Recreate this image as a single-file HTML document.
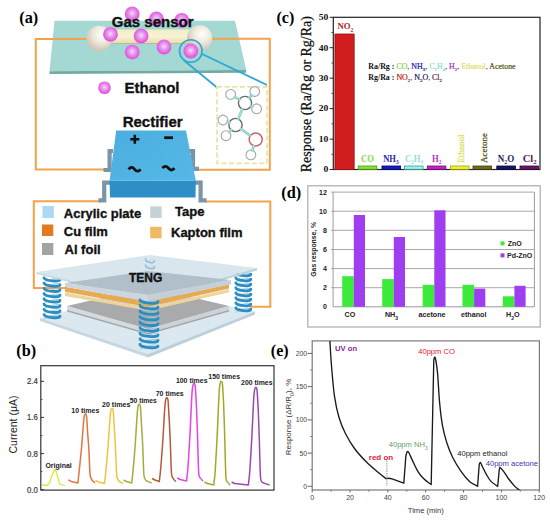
<!DOCTYPE html>
<html><head><meta charset="utf-8"><style>
html,body{margin:0;padding:0;background:#fff;width:550px;height:521px;overflow:hidden}
svg{display:block}
</style></head><body>
<svg width="550" height="521" viewBox="0 0 550 521">
<rect width="550" height="521" fill="#fff"/>
<defs>
<radialGradient id="pink" cx="0.5" cy="0.46" r="0.55">
  <stop offset="0" stop-color="#EEE0FA"/>
  <stop offset="0.3" stop-color="#EAA8F0"/>
  <stop offset="0.75" stop-color="#E466E4"/>
  <stop offset="1" stop-color="#DC4CDC"/>
</radialGradient>
<radialGradient id="bead" cx="0.6" cy="0.35" r="0.7">
  <stop offset="0" stop-color="#FFFFFF"/>
  <stop offset="0.45" stop-color="#EFE9DD"/>
  <stop offset="1" stop-color="#C9BFAE"/>
</radialGradient>
<linearGradient id="rod" x1="0" y1="0" x2="0" y2="1">
  <stop offset="0" stop-color="#F3EDC4"/>
  <stop offset="0.5" stop-color="#F8F3D6"/>
  <stop offset="1" stop-color="#E6DCA8"/>
</linearGradient>
<linearGradient id="rectTop" x1="0" y1="0" x2="1" y2="1">
  <stop offset="0" stop-color="#4AAEDF"/>
  <stop offset="1" stop-color="#56B8E6"/>
</linearGradient>
</defs>
<polygon points="54.5,20.8 235,20.8 246.2,70 49.5,71.2" fill="#A3D9D2" stroke="none" stroke-width="0" />
<polygon points="49.5,71.2 246.2,70 246.2,72.8 49.5,74" fill="#72A9A3" stroke="none" stroke-width="0" />
<path d="M89,39 H35.8 V169.6 H106" stroke="#F4A24C" stroke-width="2" fill="none" />
<path d="M210,38.7 H269.8 V169.7 H197" stroke="#F4A24C" stroke-width="2" fill="none" />
<path d="M101,201.3 H33.8 V288 H66" stroke="#F4A24C" stroke-width="2" fill="none" />
<path d="M205,201.4 H270.3 V306.7 H250" stroke="#F4A24C" stroke-width="2" fill="none" />
<rect x="100" y="29.5" width="100" height="14" fill="url(#rod)"/>
<line x1="100" y1="43.5" x2="200" y2="43.5" stroke="#BDBB98" stroke-width="1"/>
<circle cx="99" cy="38.5" r="12.7" fill="url(#bead)"/>
<circle cx="199.6" cy="38" r="12.7" fill="url(#bead)"/>
<circle cx="132.2" cy="13.9" r="7.4" fill="url(#pink)"/>
<circle cx="156.4" cy="19" r="7.4" fill="url(#pink)"/>
<circle cx="181.8" cy="20.3" r="7.4" fill="url(#pink)"/>
<circle cx="110.5" cy="34.3" r="7.4" fill="url(#pink)"/>
<circle cx="141.1" cy="36" r="7.4" fill="url(#pink)"/>
<circle cx="132.2" cy="52.1" r="7.4" fill="url(#pink)"/>
<circle cx="164" cy="47" r="7.4" fill="url(#pink)"/>
<circle cx="190.8" cy="51" r="7.4" fill="url(#pink)"/>
<circle cx="104.5" cy="87.7" r="6.3" fill="url(#pink)"/>
<text x="111.8" y="27.4" font-family="'Liberation Sans', sans-serif" font-size="15" font-weight="bold" fill="#111" text-anchor="start" stroke="#111" stroke-width="0.35">Gas sensor</text>
<text x="124.5" y="93.2" font-family="'Liberation Sans', sans-serif" font-size="15" font-weight="bold" fill="#111" text-anchor="start" stroke="#111" stroke-width="0.35">Ethanol</text>
<text x="122.7" y="126.8" font-family="'Liberation Sans', sans-serif" font-size="15" font-weight="bold" fill="#111" text-anchor="start" stroke="#111" stroke-width="0.35">Rectifier</text>
<text x="19.3" y="23" font-family="'Liberation Serif', serif" font-size="16.3" font-weight="bold" fill="#000" text-anchor="start" >(a)</text>
<circle cx="190.8" cy="51" r="11.3" fill="none" stroke="#2FA6D6" stroke-width="1.6"/>
<path d="M183.5,60 L217,87.5" stroke="#2FA6D6" stroke-width="1.7" fill="none" />
<path d="M201,53.5 L267,85" stroke="#2FA6D6" stroke-width="1.7" fill="none" />
<rect x="217" y="86.8" width="50" height="76.6" fill="none" stroke="#E2E8A0" stroke-width="1.7" stroke-dasharray="5,2.6"/>
<circle cx="230.7" cy="94.4" r="4.9" fill="#fff" stroke="#A5A5A5" stroke-width="1.1"/>
<circle cx="254.7" cy="91.5" r="4.9" fill="#fff" stroke="#A5A5A5" stroke-width="1.1"/>
<circle cx="256.6" cy="108.8" r="4.9" fill="#fff" stroke="#A5A5A5" stroke-width="1.1"/>
<circle cx="223" cy="120" r="4.9" fill="#fff" stroke="#A5A5A5" stroke-width="1.1"/>
<circle cx="226" cy="135.7" r="4.9" fill="#fff" stroke="#A5A5A5" stroke-width="1.1"/>
<circle cx="250.9" cy="154.9" r="4.9" fill="#fff" stroke="#A5A5A5" stroke-width="1.1"/>
<circle cx="245" cy="103" r="6.6" fill="#fff" stroke="#686868" stroke-width="1.4"/>
<circle cx="235.5" cy="125" r="6.6" fill="#fff" stroke="#686868" stroke-width="1.4"/>
<circle cx="255.7" cy="139.5" r="6.5" fill="#fff" stroke="#D0626C" stroke-width="1.5"/>
<line x1="242.8" y1="108.1" x2="237.7" y2="119.9" stroke="#84CBC2" stroke-width="2.6" stroke-linecap="butt"/>
<line x1="242.8" y1="108.1" x2="237.7" y2="119.9" stroke="#CDEBE6" stroke-width="0.7"/>
<line x1="240.0" y1="128.3" x2="251.0" y2="136.1" stroke="#84CBC2" stroke-width="2.6" stroke-linecap="butt"/>
<line x1="240.0" y1="128.3" x2="251.0" y2="136.1" stroke="#CDEBE6" stroke-width="0.7"/>
<line x1="240.4" y1="100.2" x2="233.8" y2="96.3" stroke="#84CBC2" stroke-width="2.6" stroke-linecap="butt"/>
<line x1="240.4" y1="100.2" x2="233.8" y2="96.3" stroke="#CDEBE6" stroke-width="0.7"/>
<line x1="248.5" y1="98.9" x2="252.4" y2="94.3" stroke="#84CBC2" stroke-width="2.6" stroke-linecap="butt"/>
<line x1="248.5" y1="98.9" x2="252.4" y2="94.3" stroke="#CDEBE6" stroke-width="0.7"/>
<line x1="249.8" y1="105.4" x2="253.4" y2="107.2" stroke="#84CBC2" stroke-width="2.6" stroke-linecap="butt"/>
<line x1="249.8" y1="105.4" x2="253.4" y2="107.2" stroke="#CDEBE6" stroke-width="0.7"/>
<line x1="230.5" y1="123.0" x2="226.3" y2="121.3" stroke="#84CBC2" stroke-width="2.6" stroke-linecap="butt"/>
<line x1="230.5" y1="123.0" x2="226.3" y2="121.3" stroke="#CDEBE6" stroke-width="0.7"/>
<line x1="231.9" y1="129.0" x2="228.4" y2="133.0" stroke="#84CBC2" stroke-width="2.6" stroke-linecap="butt"/>
<line x1="231.9" y1="129.0" x2="228.4" y2="133.0" stroke="#CDEBE6" stroke-width="0.7"/>
<line x1="254.0" y1="145.0" x2="252.0" y2="151.5" stroke="#84CBC2" stroke-width="2.6" stroke-linecap="butt"/>
<line x1="254.0" y1="145.0" x2="252.0" y2="151.5" stroke="#CDEBE6" stroke-width="0.7"/>
<path d="M103.5,170 H109.6 V151 H113" stroke="#7B95A7" stroke-width="4.2" fill="none" stroke-linejoin="miter"/>
<path d="M98.5,200.3 H104.2 V182.6 H111" stroke="#7B95A7" stroke-width="4.2" fill="none" stroke-linejoin="miter"/>
<path d="M199,168.8 H193 V151 H189" stroke="#7B95A7" stroke-width="4.2" fill="none" stroke-linejoin="miter"/>
<path d="M206.5,200.3 H200.6 V182.6 H194" stroke="#7B95A7" stroke-width="4.2" fill="none" stroke-linejoin="miter"/>
<polygon points="109.6,180.6 195.8,180.6 195.5,197.5 110,197.5" fill="#2E8FC6" stroke="none" stroke-width="0" />
<polygon points="116.2,130.5 186,130.5 195.8,180.6 109.6,180.6" fill="url(#rectTop)" stroke="none" stroke-width="0" stroke="#4AAEDF" stroke-width="1" stroke-linejoin="round"/>
<path d="M130.3,139.2 H139.3 M134.8,134.7 V143.7" stroke="#111" stroke-width="2.6" fill="none" />
<path d="M164.2,137.7 H173" stroke="#111" stroke-width="2.8" fill="none" />
<path d="M128.6,169.3 q3,-3.8 6,0 t6,0" stroke="#111" stroke-width="2.8" fill="none" />
<path d="M162.4,168.2 q3,-3.8 6,0 t6,0" stroke="#111" stroke-width="2.8" fill="none" />
<rect x="42.5" y="206" width="11.3" height="12" fill="#ADD8F2"/>
<rect x="42" y="224.5" width="11.3" height="11.5" fill="#E07B22"/>
<rect x="42" y="243" width="11.3" height="12" fill="#A3A3A3"/>
<rect x="150.2" y="206.4" width="11.4" height="11.5" fill="#C3D3D3"/>
<rect x="150.2" y="226.8" width="11.4" height="11.5" fill="#F0BA62"/>
<text x="63.8" y="218.2" font-family="'Liberation Sans', sans-serif" font-size="13" font-weight="bold" fill="#111" text-anchor="start" stroke="#111" stroke-width="0.35">Acrylic plate</text>
<text x="63.8" y="235.5" font-family="'Liberation Sans', sans-serif" font-size="13" font-weight="bold" fill="#111" text-anchor="start" stroke="#111" stroke-width="0.35">Cu film</text>
<text x="64.5" y="254" font-family="'Liberation Sans', sans-serif" font-size="13" font-weight="bold" fill="#111" text-anchor="start" stroke="#111" stroke-width="0.35">Al foil</text>
<text x="175" y="215.5" font-family="'Liberation Sans', sans-serif" font-size="13" font-weight="bold" fill="#111" text-anchor="start" stroke="#111" stroke-width="0.35">Tape</text>
<text x="171" y="237" font-family="'Liberation Sans', sans-serif" font-size="13" font-weight="bold" fill="#111" text-anchor="start" stroke="#111" stroke-width="0.35">Kapton film</text>
<polygon points="40,318 148,289 255,311.5 148,354" fill="#DCE8F0" stroke="none" stroke-width="0" />
<polygon points="40,318 148,354 148,357.5 40,321" fill="#C6D7E2" stroke="none" stroke-width="0" />
<polygon points="148,354 255,311.5 255,314.5 148,357.5" fill="#BCCFDB" stroke="none" stroke-width="0" />
<polygon points="67,306 148,287 229,306 148,329" fill="#A8AAAC" stroke="none" stroke-width="0" />
<polygon points="67,306 148,329 148,333 67,310" fill="#D5DADD" stroke="none" stroke-width="0" />
<polygon points="148,329 229,306 229,310 148,333" fill="#CDD2D6" stroke="none" stroke-width="0" />
<polygon points="67,310 148,333 148,334.5 67,311.5" fill="#A0A4A8" stroke="none" stroke-width="0" />
<polygon points="148,333 229,310 229,311.5 148,334.5" fill="#A0A4A8" stroke="none" stroke-width="0" />
<path d="M60.0,279.4 C60.0,276.6 44.0,280.3 44.0,283.1" stroke="#9CCBE2" stroke-width="1" fill="none"/>
<path d="M60.0,284.7 C60.0,281.8 44.0,285.5 44.0,288.3" stroke="#9CCBE2" stroke-width="1" fill="none"/>
<path d="M60.0,289.9 C60.0,287.1 44.0,290.8 44.0,293.6" stroke="#9CCBE2" stroke-width="1" fill="none"/>
<path d="M60.0,295.2 C60.0,292.3 44.0,296.0 44.0,298.8" stroke="#9CCBE2" stroke-width="1" fill="none"/>
<path d="M60.0,300.4 C60.0,297.6 44.0,301.3 44.0,304.1" stroke="#9CCBE2" stroke-width="1" fill="none"/>
<path d="M60.0,305.7 C60.0,302.8 44.0,306.5 44.0,309.3" stroke="#9CCBE2" stroke-width="1" fill="none"/>
<path d="M60.0,310.9 C60.0,308.1 44.0,311.8 44.0,314.6" stroke="#9CCBE2" stroke-width="1" fill="none"/>
<path d="M60.0,316.2 C60.0,313.3 44.0,317.0 44.0,319.8" stroke="#9CCBE2" stroke-width="1" fill="none"/>
<path d="M44.0,277.8 C44.0,280.8 60.0,282.4 60.0,279.4" stroke="#2A8EC2" stroke-width="2.8" fill="none" stroke-linecap="round"/>
<path d="M44.0,283.1 C44.0,286.0 60.0,287.6 60.0,284.7" stroke="#2A8EC2" stroke-width="2.8" fill="none" stroke-linecap="round"/>
<path d="M44.0,288.3 C44.0,291.3 60.0,292.9 60.0,289.9" stroke="#2A8EC2" stroke-width="2.8" fill="none" stroke-linecap="round"/>
<path d="M44.0,293.6 C44.0,296.5 60.0,298.1 60.0,295.2" stroke="#2A8EC2" stroke-width="2.8" fill="none" stroke-linecap="round"/>
<path d="M44.0,298.8 C44.0,301.8 60.0,303.4 60.0,300.4" stroke="#2A8EC2" stroke-width="2.8" fill="none" stroke-linecap="round"/>
<path d="M44.0,304.1 C44.0,307.0 60.0,308.6 60.0,305.7" stroke="#2A8EC2" stroke-width="2.8" fill="none" stroke-linecap="round"/>
<path d="M44.0,309.3 C44.0,312.3 60.0,313.9 60.0,310.9" stroke="#2A8EC2" stroke-width="2.8" fill="none" stroke-linecap="round"/>
<path d="M44.0,314.6 C44.0,317.5 60.0,319.1 60.0,316.2" stroke="#2A8EC2" stroke-width="2.8" fill="none" stroke-linecap="round"/>
<path d="M250.8,274.2 C250.8,271.6 235.8,275.1 235.8,277.8" stroke="#9CCBE2" stroke-width="1" fill="none"/>
<path d="M250.8,279.2 C250.8,276.6 235.8,280.1 235.8,282.8" stroke="#9CCBE2" stroke-width="1" fill="none"/>
<path d="M250.8,284.2 C250.8,281.6 235.8,285.1 235.8,287.8" stroke="#9CCBE2" stroke-width="1" fill="none"/>
<path d="M250.8,289.2 C250.8,286.6 235.8,290.1 235.8,292.8" stroke="#9CCBE2" stroke-width="1" fill="none"/>
<path d="M250.8,294.2 C250.8,291.6 235.8,295.1 235.8,297.8" stroke="#9CCBE2" stroke-width="1" fill="none"/>
<path d="M250.8,299.2 C250.8,296.6 235.8,300.1 235.8,302.8" stroke="#9CCBE2" stroke-width="1" fill="none"/>
<path d="M250.8,304.2 C250.8,301.6 235.8,305.1 235.8,307.8" stroke="#9CCBE2" stroke-width="1" fill="none"/>
<path d="M250.8,309.2 C250.8,306.6 235.8,310.1 235.8,312.8" stroke="#9CCBE2" stroke-width="1" fill="none"/>
<path d="M235.8,272.8 C235.8,275.6 250.8,277.1 250.8,274.2" stroke="#2A8EC2" stroke-width="2.8" fill="none" stroke-linecap="round"/>
<path d="M235.8,277.8 C235.8,280.6 250.8,282.1 250.8,279.2" stroke="#2A8EC2" stroke-width="2.8" fill="none" stroke-linecap="round"/>
<path d="M235.8,282.8 C235.8,285.6 250.8,287.1 250.8,284.2" stroke="#2A8EC2" stroke-width="2.8" fill="none" stroke-linecap="round"/>
<path d="M235.8,287.8 C235.8,290.6 250.8,292.1 250.8,289.2" stroke="#2A8EC2" stroke-width="2.8" fill="none" stroke-linecap="round"/>
<path d="M235.8,292.8 C235.8,295.6 250.8,297.1 250.8,294.2" stroke="#2A8EC2" stroke-width="2.8" fill="none" stroke-linecap="round"/>
<path d="M235.8,297.8 C235.8,300.6 250.8,302.1 250.8,299.2" stroke="#2A8EC2" stroke-width="2.8" fill="none" stroke-linecap="round"/>
<path d="M235.8,302.8 C235.8,305.6 250.8,307.1 250.8,304.2" stroke="#2A8EC2" stroke-width="2.8" fill="none" stroke-linecap="round"/>
<path d="M235.8,307.8 C235.8,310.6 250.8,312.1 250.8,309.2" stroke="#2A8EC2" stroke-width="2.8" fill="none" stroke-linecap="round"/>
<polygon points="36.5,272 150,255 257,268 148,299" fill="#D9E6EE" stroke="none" stroke-width="0" />
<polygon points="36.5,272 148,299 148,301.5 36.5,274" fill="#C8D9E4" stroke="none" stroke-width="0" />
<polygon points="148,299 257,268 257,270.5 148,301.5" fill="#C0D2DE" stroke="none" stroke-width="0" />
<path d="M154.5,260.9 C154.5,257.7 145.5,261.9 145.5,265.1" stroke="#C0DAE8" stroke-width="1" fill="none"/>
<path d="M154.5,266.9 C154.5,263.7 145.5,267.9 145.5,271.1" stroke="#C0DAE8" stroke-width="1" fill="none"/>
<path d="M145.5,259.1 C145.5,262.5 154.5,264.3 154.5,260.9" stroke="#8FBFD8" stroke-width="1.6" fill="none" stroke-linecap="round"/>
<path d="M145.5,265.1 C145.5,268.5 154.5,270.3 154.5,266.9" stroke="#8FBFD8" stroke-width="1.6" fill="none" stroke-linecap="round"/>
<polygon points="65,292.4 148,307.4 229,289.3 229,292.3 148,310.8 65,296" fill="#EDD39C" stroke="none" stroke-width="0" />
<polygon points="65,291.7 148,306.7 229,288.6 229,289.3 148,307.4 65,292.4" fill="#F3E6CC" stroke="none" stroke-width="0" />
<polygon points="65,286.8 148,301.8 229,284.3 229,288.6 148,306.7 65,291.7" fill="#E6AA52" stroke="none" stroke-width="0" />
<polygon points="65,283 148,271 231,280 148,295" fill="#B0BFCA" stroke="none" stroke-width="0" />
<polygon points="65,283 148,295 148,301.8 65,286.8" fill="#CDD6DD" stroke="none" stroke-width="0" />
<polygon points="148,295 231,280 231,284.3 148,301.8" fill="#C4CFD7" stroke="none" stroke-width="0" />
<text x="129" y="282.3" font-family="'Liberation Sans', sans-serif" font-size="12" font-weight="bold" fill="#111" text-anchor="start" stroke="#111" stroke-width="0.35">TENG</text>
<path d="M158.0,301.6 C158.0,298.6 140.0,302.5 140.0,305.5" stroke="#9CCBE2" stroke-width="1" fill="none"/>
<path d="M158.0,307.2 C158.0,304.2 140.0,308.1 140.0,311.1" stroke="#9CCBE2" stroke-width="1" fill="none"/>
<path d="M158.0,312.7 C158.0,309.7 140.0,313.6 140.0,316.6" stroke="#9CCBE2" stroke-width="1" fill="none"/>
<path d="M158.0,318.3 C158.0,315.3 140.0,319.2 140.0,322.2" stroke="#9CCBE2" stroke-width="1" fill="none"/>
<path d="M158.0,323.8 C158.0,320.8 140.0,324.7 140.0,327.7" stroke="#9CCBE2" stroke-width="1" fill="none"/>
<path d="M158.0,329.4 C158.0,326.4 140.0,330.3 140.0,333.3" stroke="#9CCBE2" stroke-width="1" fill="none"/>
<path d="M158.0,334.9 C158.0,331.9 140.0,335.8 140.0,338.8" stroke="#9CCBE2" stroke-width="1" fill="none"/>
<path d="M158.0,340.5 C158.0,337.5 140.0,341.4 140.0,344.4" stroke="#9CCBE2" stroke-width="1" fill="none"/>
<path d="M158.0,346.1 C158.0,343.1 140.0,346.9 140.0,349.9" stroke="#9CCBE2" stroke-width="1" fill="none"/>
<path d="M140.0,299.9 C140.0,303.1 158.0,304.7 158.0,301.6" stroke="#2A8EC2" stroke-width="2.8" fill="none" stroke-linecap="round"/>
<path d="M140.0,305.5 C140.0,308.6 158.0,310.3 158.0,307.2" stroke="#2A8EC2" stroke-width="2.8" fill="none" stroke-linecap="round"/>
<path d="M140.0,311.1 C140.0,314.2 158.0,315.8 158.0,312.7" stroke="#2A8EC2" stroke-width="2.8" fill="none" stroke-linecap="round"/>
<path d="M140.0,316.6 C140.0,319.7 158.0,321.4 158.0,318.3" stroke="#2A8EC2" stroke-width="2.8" fill="none" stroke-linecap="round"/>
<path d="M140.0,322.2 C140.0,325.3 158.0,327.0 158.0,323.8" stroke="#2A8EC2" stroke-width="2.8" fill="none" stroke-linecap="round"/>
<path d="M140.0,327.7 C140.0,330.8 158.0,332.5 158.0,329.4" stroke="#2A8EC2" stroke-width="2.8" fill="none" stroke-linecap="round"/>
<path d="M140.0,333.3 C140.0,336.4 158.0,338.1 158.0,334.9" stroke="#2A8EC2" stroke-width="2.8" fill="none" stroke-linecap="round"/>
<path d="M140.0,338.8 C140.0,342.0 158.0,343.6 158.0,340.5" stroke="#2A8EC2" stroke-width="2.8" fill="none" stroke-linecap="round"/>
<path d="M140.0,344.4 C140.0,347.5 158.0,349.2 158.0,346.1" stroke="#2A8EC2" stroke-width="2.8" fill="none" stroke-linecap="round"/>
<text x="16.3" y="355.6" font-family="'Liberation Serif', serif" font-size="16.3" font-weight="bold" fill="#000" text-anchor="start" >(b)</text>
<rect x="40.8" y="365.7" width="233.2" height="124.4" fill="none" stroke="#333" stroke-width="1.2"/>
<path d="M40.7,489.7 H44" stroke="#333" stroke-width="1" fill="none" />
<text x="37.8" y="492.7" font-family="'Liberation Sans', sans-serif" font-size="8.2" font-weight="normal" fill="#3A3A3A" text-anchor="end" textLength="10.8" lengthAdjust="spacingAndGlyphs" stroke="#3A3A3A" stroke-width="0.2">0.0</text>
<path d="M40.7,453.6 H44" stroke="#333" stroke-width="1" fill="none" />
<text x="37.8" y="456.56399999999996" font-family="'Liberation Sans', sans-serif" font-size="8.2" font-weight="normal" fill="#3A3A3A" text-anchor="end" textLength="10.8" lengthAdjust="spacingAndGlyphs" stroke="#3A3A3A" stroke-width="0.2">0.8</text>
<path d="M40.7,417.4 H44" stroke="#333" stroke-width="1" fill="none" />
<text x="37.8" y="420.428" font-family="'Liberation Sans', sans-serif" font-size="8.2" font-weight="normal" fill="#3A3A3A" text-anchor="end" textLength="10.8" lengthAdjust="spacingAndGlyphs" stroke="#3A3A3A" stroke-width="0.2">1.6</text>
<path d="M40.7,381.3 H44" stroke="#333" stroke-width="1" fill="none" />
<text x="37.8" y="384.292" font-family="'Liberation Sans', sans-serif" font-size="8.2" font-weight="normal" fill="#3A3A3A" text-anchor="end" textLength="10.8" lengthAdjust="spacingAndGlyphs" stroke="#3A3A3A" stroke-width="0.2">2.4</text>
<path d="M40.7,471.6 H42.5" stroke="#333" stroke-width="0.8" fill="none" />
<path d="M40.7,435.5 H42.5" stroke="#333" stroke-width="0.8" fill="none" />
<path d="M40.7,399.4 H42.5" stroke="#333" stroke-width="0.8" fill="none" />
<text transform="translate(16.5,424.5) rotate(-90)" font-family="'Liberation Sans', sans-serif" font-size="10.5" fill="#222" text-anchor="middle">Current (μA)</text>
<path d="M42.3,485 L47,485.5 L49.5,483 L52,475 L55.2,469 L57.5,476 L59.6,484 L64.8,485.5" stroke="#D9E83A" stroke-width="1.3" fill="none" />
<path d="M68.2,479.9 L71.2,481.4 L77.9,482.9 L77.9,482.9 C78.1,481.3 79.0,472.9 79.4,468.9 C79.8,464.9 81.1,453.2 81.5,448.3 C81.9,443.4 82.9,430.5 83.2,426.7 C83.5,422.9 84.0,417.4 84.3,415.9 C84.6,414.4 85.1,413.7 85.4,413.7 C85.7,413.7 86.3,413.9 86.6,416.2 C86.9,418.5 87.4,430.0 87.7,433.7 C88.0,437.4 88.5,443.5 88.8,448.3 C89.1,453.1 89.7,471.2 90.1,474.9 C90.5,478.6 91.6,479.5 92.2,480.4 C92.8,481.3 94.7,482.6 95.0,482.9" stroke="#E27540" stroke-width="1.5" fill="none" stroke-linejoin="round"/>
<path d="M95.5,480.5 L98.5,482.0 L104.5,483.5 L104.5,483.5 C104.7,481.9 105.6,473.9 106.0,469.5 C106.4,465.1 107.7,451.5 108.1,445.9 C108.5,440.2 109.5,425.3 109.8,421.2 C110.1,417.1 110.6,411.9 110.9,410.4 C111.2,408.9 111.7,408.2 112.0,408.2 C112.3,408.2 112.9,408.4 113.2,410.7 C113.5,413.0 114.0,424.1 114.3,428.2 C114.6,432.3 115.1,440.3 115.4,445.9 C115.7,451.4 116.3,471.4 116.7,475.5 C117.1,479.6 118.1,480.1 118.8,481.0 C119.5,481.9 122.5,483.2 123.0,483.5" stroke="#F0C43C" stroke-width="1.5" fill="none" stroke-linejoin="round"/>
<path d="M123.5,480.0 L126.5,481.5 L131.7,483.0 L131.7,483.0 C131.9,481.4 132.8,473.6 133.2,469.0 C133.6,464.4 134.9,449.6 135.3,443.5 C135.7,437.4 136.7,421.4 137.0,417.0 C137.3,412.6 137.8,407.7 138.1,406.2 C138.4,404.7 138.9,404.0 139.2,404.0 C139.5,404.0 140.1,404.2 140.4,406.5 C140.7,408.8 141.2,419.7 141.5,424.0 C141.8,428.3 142.3,437.6 142.6,443.5 C142.9,449.4 143.5,470.7 143.9,475.0 C144.3,479.3 145.1,479.6 146.0,480.5 C146.9,481.4 151.0,482.7 151.7,483.0" stroke="#A4AC3C" stroke-width="1.5" fill="none" stroke-linejoin="round"/>
<path d="M152.0,478.5 L155.0,480.0 L159.3,481.5 L159.3,481.5 C159.5,479.9 160.4,472.4 160.8,467.5 C161.2,462.6 162.5,446.1 162.9,439.5 C163.3,432.9 164.3,415.1 164.6,410.5 C164.9,405.9 165.4,401.2 165.7,399.7 C166.0,398.2 166.5,397.5 166.8,397.5 C167.1,397.5 167.7,397.7 168.0,400.0 C168.3,402.3 168.8,412.9 169.1,417.5 C169.4,422.1 169.9,433.0 170.2,439.5 C170.5,446.0 171.1,468.9 171.5,473.5 C171.9,478.1 173.1,478.1 173.6,479.0 C174.1,479.9 175.7,481.2 176.0,481.5" stroke="#B8573A" stroke-width="1.5" fill="none" stroke-linejoin="round"/>
<path d="M177.2,478.0 L180.2,479.5 L186.5,481.0 L186.5,481.0 C186.7,479.4 187.6,472.7 188.0,467.0 C188.4,461.3 189.7,440.4 190.1,432.1 C190.5,423.9 191.5,401.7 191.8,396.3 C192.1,390.9 192.6,387.0 192.9,385.5 C193.2,384.0 193.7,383.3 194.0,383.3 C194.3,383.3 194.9,383.5 195.2,385.8 C195.5,388.1 196.0,397.9 196.3,403.3 C196.6,408.7 197.1,424.0 197.4,432.1 C197.7,440.3 198.3,467.6 198.7,473.0 C199.1,478.4 200.3,477.6 200.8,478.5 C201.3,479.4 202.7,480.7 203.0,481.0" stroke="#E543E8" stroke-width="1.5" fill="none" stroke-linejoin="round"/>
<path d="M204.4,482.0 L207.4,483.5 L213.7,485.0 L213.7,485.0 C213.9,483.4 214.8,477.1 215.2,471.0 C215.6,464.9 216.9,442.1 217.3,433.1 C217.7,424.1 218.7,400.0 219.0,394.2 C219.3,388.4 219.8,384.9 220.1,383.4 C220.4,381.9 220.9,381.2 221.2,381.2 C221.5,381.2 222.1,381.4 222.4,383.7 C222.7,386.0 223.2,395.4 223.5,401.2 C223.8,407.0 224.3,424.3 224.6,433.1 C224.9,441.9 225.5,471.2 225.9,477.0 C226.3,482.8 227.5,481.6 228.0,482.5 C228.5,483.4 229.9,484.7 230.2,485.0" stroke="#A3A824" stroke-width="1.5" fill="none" stroke-linejoin="round"/>
<path d="M231.6,482.0 L234.6,483.5 L248.3,485.0 L248.3,485.0 C248.5,483.4 249.4,476.7 249.8,471.0 C250.2,465.3 251.5,444.4 251.9,436.1 C252.3,427.8 253.3,405.6 253.6,400.2 C253.9,394.8 254.4,390.9 254.7,389.4 C255.0,387.9 255.5,387.2 255.8,387.2 C256.1,387.2 256.7,387.4 257.0,389.7 C257.3,392.0 257.8,401.8 258.1,407.2 C258.4,412.6 258.9,428.0 259.2,436.1 C259.5,444.2 260.1,471.6 260.5,477.0 C260.9,482.4 261.5,481.6 262.6,482.5 C263.7,483.4 268.8,484.7 269.6,485.0" stroke="#9848B0" stroke-width="1.5" fill="none" stroke-linejoin="round"/>
<text x="45.4" y="467.8" font-family="'Liberation Sans', sans-serif" font-size="7.8" font-weight="bold" fill="#222" text-anchor="start" textLength="26.4" lengthAdjust="spacingAndGlyphs">Original</text>
<text x="71.3" y="412.8" font-family="'Liberation Sans', sans-serif" font-size="7.8" font-weight="bold" fill="#222" text-anchor="start" textLength="28" lengthAdjust="spacingAndGlyphs">10 times</text>
<text x="102" y="406.8" font-family="'Liberation Sans', sans-serif" font-size="7.8" font-weight="bold" fill="#222" text-anchor="start" textLength="28.4" lengthAdjust="spacingAndGlyphs">20 times</text>
<text x="129.7" y="402.5" font-family="'Liberation Sans', sans-serif" font-size="7.8" font-weight="bold" fill="#222" text-anchor="start" textLength="27.2" lengthAdjust="spacingAndGlyphs">50 times</text>
<text x="155.7" y="395.5" font-family="'Liberation Sans', sans-serif" font-size="7.8" font-weight="bold" fill="#222" text-anchor="start" textLength="28" lengthAdjust="spacingAndGlyphs">70 times</text>
<text x="175.9" y="383.2" font-family="'Liberation Sans', sans-serif" font-size="7.8" font-weight="bold" fill="#222" text-anchor="start" textLength="31.6" lengthAdjust="spacingAndGlyphs">100 times</text>
<text x="208.3" y="378.5" font-family="'Liberation Sans', sans-serif" font-size="7.8" font-weight="bold" fill="#222" text-anchor="start" textLength="31.7" lengthAdjust="spacingAndGlyphs">150 times</text>
<text x="241.1" y="385.3" font-family="'Liberation Sans', sans-serif" font-size="7.8" font-weight="bold" fill="#222" text-anchor="start" textLength="31.4" lengthAdjust="spacingAndGlyphs">200 times</text>
<text x="276.5" y="23.4" font-family="'Liberation Serif', serif" font-size="16" font-weight="bold" fill="#000" text-anchor="start" >(c)</text>
<text transform="translate(311,94.2) rotate(-90)" font-family="'Liberation Serif', serif" font-size="14.8" font-weight="normal" fill="#111" stroke="#111" stroke-width="0.25" text-anchor="middle" textLength="156" lengthAdjust="spacingAndGlyphs">Response (Ra/Rg or Rg/Ra)</text>
<rect x="333.3" y="17.3" width="206.7" height="152.2" fill="none" stroke="#222" stroke-width="1.2"/>
<path d="M329.7,169.5 H333.3" stroke="#222" stroke-width="1" fill="none" />
<text x="328.3" y="172.3" font-family="'Liberation Serif', serif" font-size="8" font-weight="bold" fill="#111" text-anchor="end" textLength="4.8" lengthAdjust="spacingAndGlyphs">0</text>
<path d="M329.7,139.1 H333.3" stroke="#222" stroke-width="1" fill="none" />
<text x="328.3" y="141.86" font-family="'Liberation Serif', serif" font-size="8" font-weight="bold" fill="#111" text-anchor="end" textLength="9.6" lengthAdjust="spacingAndGlyphs">10</text>
<path d="M329.7,108.6 H333.3" stroke="#222" stroke-width="1" fill="none" />
<text x="328.3" y="111.42" font-family="'Liberation Serif', serif" font-size="8" font-weight="bold" fill="#111" text-anchor="end" textLength="9.6" lengthAdjust="spacingAndGlyphs">20</text>
<path d="M329.7,78.2 H333.3" stroke="#222" stroke-width="1" fill="none" />
<text x="328.3" y="80.98" font-family="'Liberation Serif', serif" font-size="8" font-weight="bold" fill="#111" text-anchor="end" textLength="9.6" lengthAdjust="spacingAndGlyphs">30</text>
<path d="M329.7,47.7 H333.3" stroke="#222" stroke-width="1" fill="none" />
<text x="328.3" y="50.53999999999999" font-family="'Liberation Serif', serif" font-size="8" font-weight="bold" fill="#111" text-anchor="end" textLength="9.6" lengthAdjust="spacingAndGlyphs">40</text>
<path d="M329.7,17.3 H333.3" stroke="#222" stroke-width="1" fill="none" />
<text x="328.3" y="20.100000000000012" font-family="'Liberation Serif', serif" font-size="8" font-weight="bold" fill="#111" text-anchor="end" textLength="9.6" lengthAdjust="spacingAndGlyphs">50</text>
<path d="M331.5,154.3 H333.3" stroke="#222" stroke-width="0.8" fill="none" />
<path d="M331.5,123.8 H333.3" stroke="#222" stroke-width="0.8" fill="none" />
<path d="M331.5,93.4 H333.3" stroke="#222" stroke-width="0.8" fill="none" />
<path d="M331.5,63.0 H333.3" stroke="#222" stroke-width="0.8" fill="none" />
<path d="M331.5,32.5 H333.3" stroke="#222" stroke-width="0.8" fill="none" />
<polygon points="334.9,34 354.2,34 354.2,169.5 334.9,169.5" fill="#D11D1D" stroke="#9A1010" stroke-width="0.8" />
<rect x="358.2" y="166" width="18.6" height="3.3" fill="#86E236" stroke="#4C9A18" stroke-width="0.8"/>
<rect x="382" y="166" width="18.6" height="3.3" fill="#1A1AC8" stroke="#000070" stroke-width="0.8"/>
<rect x="404.5" y="166" width="18.6" height="3.3" fill="#9EF0F0" stroke="#3AA0A0" stroke-width="0.8"/>
<rect x="427.3" y="166" width="18.6" height="3.3" fill="#C81EC8" stroke="#701070" stroke-width="0.8"/>
<rect x="450.4" y="166" width="18.6" height="3.3" fill="#F2F22A" stroke="#A0A010" stroke-width="0.8"/>
<rect x="473" y="166" width="18.6" height="3.3" fill="#6E6E1E" stroke="#3C3C08" stroke-width="0.8"/>
<rect x="496.8" y="166" width="18.6" height="3.3" fill="#16166A" stroke="#050530" stroke-width="0.8"/>
<rect x="520" y="166" width="18.6" height="3.3" fill="#6A1668" stroke="#300830" stroke-width="0.8"/>
<text x="337.4" y="28.7" font-family="'Liberation Serif', serif" font-size="8.7" font-weight="bold" fill="#A82424" text-anchor="start" >NO<tspan baseline-shift="sub" font-size="5.5">2</tspan></text>
<text x="361.1" y="161.5" font-family="'Liberation Serif', serif" font-size="9.6" font-weight="bold" fill="#86D84A" text-anchor="start" textLength="12.8" lengthAdjust="spacingAndGlyphs">CO</text>
<text x="383.2" y="161.5" font-family="'Liberation Serif', serif" font-size="9.6" font-weight="bold" fill="#2424A8" text-anchor="start" textLength="15.4" lengthAdjust="spacingAndGlyphs">NH<tspan baseline-shift="-2.2" font-size="6">3</tspan></text>
<text x="405" y="161.5" font-family="'Liberation Serif', serif" font-size="9.6" font-weight="bold" fill="#92DEDE" text-anchor="start" textLength="18.2" lengthAdjust="spacingAndGlyphs">C<tspan baseline-shift="-2.2" font-size="6">2</tspan>H<tspan baseline-shift="-2.2" font-size="6">4</tspan></text>
<text x="432" y="161.5" font-family="'Liberation Serif', serif" font-size="9.6" font-weight="bold" fill="#B438BC" text-anchor="start" textLength="9.4" lengthAdjust="spacingAndGlyphs">H<tspan baseline-shift="-2.2" font-size="6">2</tspan></text>
<text x="497.8" y="161.5" font-family="'Liberation Serif', serif" font-size="9.6" font-weight="bold" fill="#1E1E62" text-anchor="start" textLength="16.4" lengthAdjust="spacingAndGlyphs">N<tspan baseline-shift="-2.2" font-size="6">2</tspan>O</text>
<text x="522.7" y="161.5" font-family="'Liberation Serif', serif" font-size="9.6" font-weight="bold" fill="#5A1E58" text-anchor="start" textLength="13.9" lengthAdjust="spacingAndGlyphs">Cl<tspan baseline-shift="-2.2" font-size="6">2</tspan></text>
<text transform="translate(463.6,163) rotate(-90)" font-family="'Liberation Serif', serif" font-size="9.2" fill="#DEDE60" stroke="#DEDE60" stroke-width="0.25">Ethanol</text>
<text transform="translate(486.6,163) rotate(-90)" font-family="'Liberation Serif', serif" font-size="9" fill="#58581A" stroke="#58581A" stroke-width="0.25">Acetone</text>
<text x="368.3" y="69" font-family="'Liberation Serif', serif" font-size="7.9" fill="#111"><tspan font-weight="bold">Ra/Rg :</tspan> <tspan fill="#7ED63A" stroke="#7ED63A" stroke-width="0.22">CO</tspan>, <tspan fill="#2020A8" stroke="#2020A8" stroke-width="0.22">NH<tspan baseline-shift="-1.5" font-size="5">3</tspan></tspan>, <tspan fill="#8ADCDC" stroke="#8ADCDC" stroke-width="0.22">C<tspan baseline-shift="-1.5" font-size="5">2</tspan>H<tspan baseline-shift="-1.5" font-size="5">4</tspan></tspan>, <tspan fill="#B030B8" stroke="#B030B8" stroke-width="0.22">H<tspan baseline-shift="-1.5" font-size="5">2</tspan></tspan>, <tspan fill="#E2E270" stroke="#E2E270" stroke-width="0.22">Ethanol</tspan>, <tspan fill="#58581A" stroke="#58581A" stroke-width="0.22">Acetone</tspan></text>
<text x="368.3" y="80.2" font-family="'Liberation Serif', serif" font-size="7.9" fill="#111"><tspan font-weight="bold">Rg/Ra :</tspan> <tspan fill="#C02020" stroke="#C02020" stroke-width="0.22">NO<tspan baseline-shift="-1.5" font-size="5">2</tspan></tspan>, <tspan fill="#1A1A60" stroke="#1A1A60" stroke-width="0.22">N<tspan baseline-shift="-1.5" font-size="5">2</tspan>O</tspan>, <tspan fill="#5A1A58" stroke="#5A1A58" stroke-width="0.22">Cl<tspan baseline-shift="-1.5" font-size="5">2</tspan></tspan></text>
<text x="281.3" y="198.4" font-family="'Liberation Serif', serif" font-size="16.3" font-weight="bold" fill="#000" text-anchor="start" >(d)</text>
<rect x="307.8" y="185.8" width="232.4" height="141.2" fill="#fff" stroke="#ABABAB" stroke-width="1.2"/>
<path d="M331,287.7 H533.9" stroke="#A8A8A8" stroke-width="1" fill="none" />
<path d="M331,268.6 H533.9" stroke="#A8A8A8" stroke-width="1" fill="none" />
<path d="M331,249.5 H533.9" stroke="#A8A8A8" stroke-width="1" fill="none" />
<path d="M331,230.3 H533.9" stroke="#A8A8A8" stroke-width="1" fill="none" />
<path d="M331,211.2 H533.9" stroke="#A8A8A8" stroke-width="1" fill="none" />
<path d="M331,192.1 H533.9" stroke="#A8A8A8" stroke-width="1" fill="none" />
<path d="M333.1,192.1 V306.8 H534.4 V192.1" stroke="#9A9A9A" stroke-width="1" fill="none" />
<text x="326.8" y="309.3" font-family="'Liberation Sans', sans-serif" font-size="7" font-weight="bold" fill="#222" text-anchor="end" >0</text>
<text x="326.8" y="290.18333333333334" font-family="'Liberation Sans', sans-serif" font-size="7" font-weight="bold" fill="#222" text-anchor="end" >2</text>
<text x="326.8" y="271.06666666666666" font-family="'Liberation Sans', sans-serif" font-size="7" font-weight="bold" fill="#222" text-anchor="end" >4</text>
<text x="326.8" y="251.95000000000002" font-family="'Liberation Sans', sans-serif" font-size="7" font-weight="bold" fill="#222" text-anchor="end" >6</text>
<text x="326.8" y="232.83333333333331" font-family="'Liberation Sans', sans-serif" font-size="7" font-weight="bold" fill="#222" text-anchor="end" >8</text>
<text x="326.8" y="213.71666666666664" font-family="'Liberation Sans', sans-serif" font-size="7" font-weight="bold" fill="#222" text-anchor="end" >10</text>
<text x="326.8" y="194.60000000000002" font-family="'Liberation Sans', sans-serif" font-size="7" font-weight="bold" fill="#222" text-anchor="end" >12</text>
<rect x="342.2" y="276.2" width="11.6" height="30.6" fill="#3CEA3C"/>
<rect x="353.8" y="215.0" width="11.2" height="91.8" fill="#9E3EF0"/>
<rect x="382.2" y="279.1" width="11.6" height="27.7" fill="#3CEA3C"/>
<rect x="393.8" y="237.0" width="11.2" height="69.8" fill="#9E3EF0"/>
<rect x="422.7" y="284.8" width="11.6" height="22.0" fill="#3CEA3C"/>
<rect x="434.3" y="210.3" width="11.2" height="96.5" fill="#9E3EF0"/>
<rect x="462.5" y="284.8" width="11.6" height="22.0" fill="#3CEA3C"/>
<rect x="474.1" y="288.6" width="11.2" height="18.2" fill="#9E3EF0"/>
<rect x="502.8" y="296.3" width="11.6" height="10.5" fill="#3CEA3C"/>
<rect x="514.4" y="285.8" width="11.2" height="21.0" fill="#9E3EF0"/>
<text x="350" y="317.2" font-family="'Liberation Sans', sans-serif" font-size="7.2" font-weight="bold" fill="#222" text-anchor="middle" >CO</text>
<text x="391.5" y="317.2" font-family="'Liberation Sans', sans-serif" font-size="7.2" font-weight="bold" fill="#222" text-anchor="middle" >NH<tspan baseline-shift="sub" font-size="5">3</tspan></text>
<text x="432" y="317.2" font-family="'Liberation Sans', sans-serif" font-size="7.2" font-weight="bold" fill="#222" text-anchor="middle" >acetone</text>
<text x="473.7" y="317.2" font-family="'Liberation Sans', sans-serif" font-size="7.2" font-weight="bold" fill="#222" text-anchor="middle" >ethanol</text>
<text x="512.8" y="317.2" font-family="'Liberation Sans', sans-serif" font-size="7.2" font-weight="bold" fill="#222" text-anchor="middle" >H<tspan baseline-shift="sub" font-size="5">2</tspan>O</text>
<text transform="translate(316,249.3) rotate(-90)" font-family="'Liberation Sans', sans-serif" font-size="6.8" font-weight="bold" fill="#222" text-anchor="middle">Gas response, %</text>
<rect x="500.5" y="241.4" width="4" height="4" fill="#3CEA3C"/>
<rect x="500.5" y="253.4" width="4" height="4" fill="#9E3EF0"/>
<text x="507.8" y="246.3" font-family="'Liberation Sans', sans-serif" font-size="7" font-weight="bold" fill="#222" text-anchor="start" >ZnO</text>
<text x="507" y="258.3" font-family="'Liberation Sans', sans-serif" font-size="7" font-weight="bold" fill="#222" text-anchor="start" >Pd-ZnO</text>
<text x="270.8" y="356" font-family="'Liberation Serif', serif" font-size="16" font-weight="bold" fill="#000" text-anchor="start" >(e)</text>
<rect x="312.2" y="340.9" width="227.2" height="149.1" fill="none" stroke="#7A7A7A" stroke-width="1.2"/>
<path d="M307.6,486.3 H312.2" stroke="#666" stroke-width="1" fill="none" />
<text x="307.1" y="488.8" font-family="'Liberation Sans', sans-serif" font-size="6.8" font-weight="normal" fill="#444" text-anchor="end" >0</text>
<path d="M307.6,453.1 H312.2" stroke="#666" stroke-width="1" fill="none" />
<text x="307.1" y="455.575" font-family="'Liberation Sans', sans-serif" font-size="6.8" font-weight="normal" fill="#444" text-anchor="end" >50</text>
<path d="M307.6,419.9 H312.2" stroke="#666" stroke-width="1" fill="none" />
<text x="307.1" y="422.35" font-family="'Liberation Sans', sans-serif" font-size="6.8" font-weight="normal" fill="#444" text-anchor="end" >100</text>
<path d="M307.6,386.6 H312.2" stroke="#666" stroke-width="1" fill="none" />
<text x="307.1" y="389.125" font-family="'Liberation Sans', sans-serif" font-size="6.8" font-weight="normal" fill="#444" text-anchor="end" >150</text>
<path d="M307.6,353.4 H312.2" stroke="#666" stroke-width="1" fill="none" />
<text x="307.1" y="355.9" font-family="'Liberation Sans', sans-serif" font-size="6.8" font-weight="normal" fill="#444" text-anchor="end" >200</text>
<path d="M310.2,469.7 H312.2" stroke="#666" stroke-width="0.8" fill="none" />
<path d="M310.2,436.5 H312.2" stroke="#666" stroke-width="0.8" fill="none" />
<path d="M310.2,403.2 H312.2" stroke="#666" stroke-width="0.8" fill="none" />
<path d="M310.2,370.0 H312.2" stroke="#666" stroke-width="0.8" fill="none" />
<path d="M312.2,490 V492.5" stroke="#666" stroke-width="1" fill="none" />
<text x="312.2" y="500" font-family="'Liberation Sans', sans-serif" font-size="7" font-weight="normal" fill="#444" text-anchor="middle" >0</text>
<path d="M350.0,490 V492.5" stroke="#666" stroke-width="1" fill="none" />
<text x="350.0333333333333" y="500" font-family="'Liberation Sans', sans-serif" font-size="7" font-weight="normal" fill="#444" text-anchor="middle" >20</text>
<path d="M387.9,490 V492.5" stroke="#666" stroke-width="1" fill="none" />
<text x="387.8666666666667" y="500" font-family="'Liberation Sans', sans-serif" font-size="7" font-weight="normal" fill="#444" text-anchor="middle" >40</text>
<path d="M425.7,490 V492.5" stroke="#666" stroke-width="1" fill="none" />
<text x="425.70000000000005" y="500" font-family="'Liberation Sans', sans-serif" font-size="7" font-weight="normal" fill="#444" text-anchor="middle" >60</text>
<path d="M463.5,490 V492.5" stroke="#666" stroke-width="1" fill="none" />
<text x="463.53333333333336" y="500" font-family="'Liberation Sans', sans-serif" font-size="7" font-weight="normal" fill="#444" text-anchor="middle" >80</text>
<path d="M501.4,490 V492.5" stroke="#666" stroke-width="1" fill="none" />
<text x="501.3666666666667" y="500" font-family="'Liberation Sans', sans-serif" font-size="7" font-weight="normal" fill="#444" text-anchor="middle" >100</text>
<path d="M539.2,490 V492.5" stroke="#666" stroke-width="1" fill="none" />
<text x="539.2" y="500" font-family="'Liberation Sans', sans-serif" font-size="7" font-weight="normal" fill="#444" text-anchor="middle" >120</text>
<path d="M331.1,490 V491.8" stroke="#666" stroke-width="0.8" fill="none" />
<path d="M368.9,490 V491.8" stroke="#666" stroke-width="0.8" fill="none" />
<path d="M406.8,490 V491.8" stroke="#666" stroke-width="0.8" fill="none" />
<path d="M444.6,490 V491.8" stroke="#666" stroke-width="0.8" fill="none" />
<path d="M482.5,490 V491.8" stroke="#666" stroke-width="0.8" fill="none" />
<path d="M520.3,490 V491.8" stroke="#666" stroke-width="0.8" fill="none" />
<text x="407.8" y="512.7" font-family="'Liberation Sans', sans-serif" font-size="7.6" font-weight="normal" fill="#333" text-anchor="start" >Time (min)</text>
<text transform="translate(290.5,417) rotate(-90)" font-family="'Liberation Sans', sans-serif" font-size="7.9" fill="#333" text-anchor="middle">Response (ΔR/R<tspan baseline-shift="sub" font-size="5.5">0</tspan>), %</text>
<svg x="312.2" y="340.9" width="226.7" height="149.1" viewBox="312.2 340.9 226.7 149.1" overflow="hidden"><path d="M329.0,330.0 C329.1,331.9 329.5,335.2 329.9,341.1 C330.3,347.1 330.7,356.5 331.5,365.7 C332.3,374.9 333.2,387.6 334.5,396.3 C335.8,405.0 337.3,411.7 339.1,417.8 C340.9,423.9 342.7,428.1 345.3,433.2 C347.9,438.3 350.9,443.6 354.5,448.5 C358.1,453.4 362.6,458.2 366.7,462.3 C370.8,466.4 375.8,470.3 379.0,473.0 C382.2,475.7 384.8,477.7 386.0,478.6 C388,478 390,478.2 392,478.8 L403.8,483.2 L405.9,455.8 C406.2,455.1 406.9,450.8 408.0,451.5 C409.1,452.2 410.6,456.8 412.3,460.1 C414.0,463.5 416.1,468.5 418.0,471.6 C419.9,474.7 421.6,476.6 423.8,478.8 C426.0,481.0 430.0,483.6 431.2,484.6 L433.8,359.4 C434.1,359.2 434.7,355.6 435.3,358.0 C435.9,360.4 436.9,366.4 437.6,373.8 C438.3,381.2 438.8,394.0 439.6,402.6 C440.4,411.2 441.3,418.9 442.5,425.6 C443.7,432.3 445.1,437.5 446.8,442.8 C448.5,448.1 450.2,452.4 452.6,457.2 C455.0,462.0 458.3,467.5 461.2,471.6 C464.1,475.7 467.1,479.2 469.8,481.7 C472.5,484.1 476.3,485.5 477.6,486.3 L479.2,464.8 C479.4,464.4 479.8,462.1 480.4,462.5 C481.0,462.9 481.7,465.2 482.7,467.2 C483.7,469.2 484.9,471.9 486.3,474.3 C487.7,476.7 489.1,479.4 491.0,481.4 C492.9,483.4 496.6,485.5 497.7,486.3 L499.3,469.6 C499.5,469.3 499.7,467.4 500.5,467.8 C501.3,468.2 502.6,470.0 504.0,471.9 C505.4,473.8 506.9,476.6 508.7,479.0 C510.5,481.4 512.6,484.0 514.6,486.1 C516.6,488.2 519.9,490.6 521.0,491.5" stroke="#1A1A1A" stroke-width="1.35" fill="none" stroke-linejoin="round"/></svg>
<path d="M386.9,460.5 V486" stroke="#777" stroke-width="0.8" fill="none" stroke-dasharray="1.5,1"/>
<text x="335" y="351.3" font-family="'Liberation Sans', sans-serif" font-size="7.65" font-weight="bold" fill="#8E1E90" text-anchor="start" >UV on</text>
<text x="368.8" y="459.8" font-family="'Liberation Sans', sans-serif" font-size="8" font-weight="bold" fill="#E0203C" text-anchor="start" >red on</text>
<text x="418.2" y="354.3" font-family="'Liberation Sans', sans-serif" font-size="7.6" font-weight="normal" fill="#E02030" text-anchor="start" >40ppm CO</text>
<text x="388.7" y="447" font-family="'Liberation Sans', sans-serif" font-size="7.6" fill="#5E9E6A">40ppm NH<tspan baseline-shift="sub" font-size="5">3</tspan></text>
<text x="457.2" y="456" font-family="'Liberation Sans', sans-serif" font-size="7.6" font-weight="normal" fill="#1A1A1A" text-anchor="start" >40ppm ethanol</text>
<text x="485.7" y="466" font-family="'Liberation Sans', sans-serif" font-size="7.6" font-weight="normal" fill="#3838A8" text-anchor="start" >40ppm acetone</text>
</svg>
</body></html>
